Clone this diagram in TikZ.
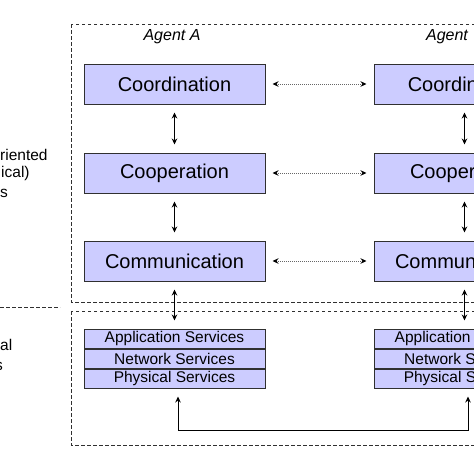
\documentclass[tikz,border=0pt]{standalone}
\usepackage{fontspec}
\setmainfont{Liberation Sans}
\usetikzlibrary{positioning,arrows.meta}
\definecolor{layerfill}{HTML}{CCCCFF}
\definecolor{edge}{HTML}{303030}

\begin{document}
\begin{tikzpicture}[
  x=1pt, y=-1pt,
  layer/.style={draw=edge, line width=1pt, fill=layerfill, minimum width=181pt, minimum height=40pt, inner sep=0pt, font=\fontsize{20}{24}\selectfont},
  service/.style={draw=edge, line width=1pt, fill=layerfill, minimum width=181pt, minimum height=19pt, inner sep=0pt, font=\fontsize{15.5}{18}\selectfont},
  frame/.style={draw=edge, line width=0.9pt, dash pattern=on 3.5pt off 2.5pt},
  vlink/.style={{Stealth[length=6pt,width=5.5pt]}-{Stealth[length=6pt,width=5.5pt]}, line width=1pt, shorten <=8pt, shorten >=8pt},
  hlink/.style={{Stealth[length=6pt,width=5.5pt,black]}-{Stealth[length=6pt,width=5.5pt,black]}, densely dotted, line width=1pt, color=gray!80!black, shorten <=7pt, shorten >=7pt},
  side/.style={font=\fontsize{15.5}{18}\selectfont, inner sep=0pt, anchor=west},
  agent/.style={font=\fontsize{16}{19}\selectfont\itshape, inner sep=0pt}
]
\useasboundingbox (0,0) rectangle (474,474);

% layer frames
\draw[frame] (71,24) rectangle (490,302);
\draw[frame] (71,311) rectangle (490,445);
\draw[frame] (0,307) -- (60,307);

% side labels (cut at the left edge)
\node[side] (taskA) at (0,155) {riented};
\node[side] (taskB) at (1,173) {ical)};
\node[side] (taskC) at (0,193) {s};
\node[side] (physA) at (0,345) {al};
\node[side] (physB) at (-5,366) {s};

% agent A
\node[agent] (agentA) at (172,37) {Agent A};
\node[layer] (coordA) at (174.5,84) {Coordination};
\node[layer, below=48pt of coordA] (coopA) {Cooperation};
\node[layer, below=47pt of coopA] (commA) {Communication};
\node[service, below=47pt of commA] (appA) {Application Services};
\node[service, below=0pt of appA] (netA) {Network Services};
\node[service, below=0pt of netA] (phyA) {Physical Services};

% agent B
\node[agent] (agentB) at (447,37) {Agent};
\node[layer, right=108pt of coordA] (coordB) {Coordination};
\node[layer, right=108pt of coopA] (coopB) {Cooperation};
\node[layer, right=108pt of commA] (commB) {Communication};
\node[service, right=108pt of appA] (appB) {Application Services};
\node[service, below=0pt of appB] (netB) {Network Services};
\node[service, below=0pt of netB] (phyB) {Physical Services};

\draw[vlink] (coordA) -- (coopA);
\draw[vlink] (coopA) -- (commA);
\draw[vlink] (commA) -- (appA);
\draw[vlink] (coordB) -- (coopB);
\draw[vlink] (coopB) -- (commB);
\draw[vlink] (commB) -- (appB);

\draw[hlink] (coordA) -- (coordB);
\draw[hlink] (coopA) -- (coopB);
\draw[hlink] (commA) -- (commB);

\draw[vlink] ([xshift=3.5pt]phyA.south) -- ++(0,42) -| ([xshift=3.5pt]phyB.south);
\end{tikzpicture}
\end{document}
